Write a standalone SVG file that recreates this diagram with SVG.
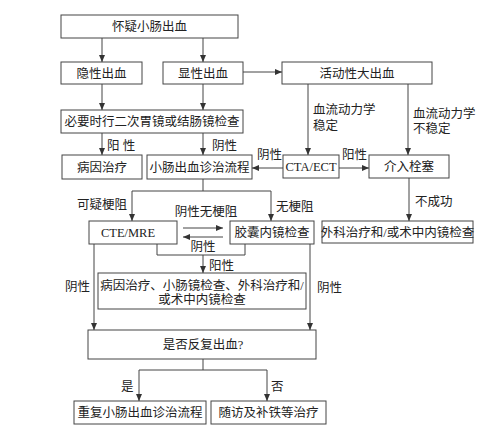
<svg xmlns="http://www.w3.org/2000/svg" width="492" height="434" viewBox="0 0 492 434">
<defs>
<marker id="ah" markerWidth="7" markerHeight="6" refX="7" refY="3" orient="auto" markerUnits="userSpaceOnUse">
<path d="M0,0 L7,3 L0,6 z" fill="#333"/>
</marker>
<style>
rect{fill:#fff;stroke:#444;stroke-width:1}
text{font-family:"Liberation Serif","Noto Sans CJK SC",serif;font-size:12.5px;fill:#222}
.c{text-anchor:middle}
.e{text-anchor:end}
#connectors path,#connectors line{fill:none;stroke:#444;stroke-width:1}
.a{marker-end:url(#ah)}
</style>
</defs>
<rect x="0" y="0" width="492" height="434" style="fill:#fff;stroke:none"/>
<g id="connectors">
<line class="a" x1="102" y1="38" x2="102" y2="62"/>
<line class="a" x1="203" y1="38" x2="203" y2="62"/>
<line class="a" x1="243" y1="72" x2="282" y2="72"/>
<line class="a" x1="102" y1="84" x2="102" y2="110"/>
<line class="a" x1="203" y1="84" x2="203" y2="110"/>
<line class="a" x1="102" y1="133" x2="102" y2="155"/>
<line class="a" x1="203" y1="133" x2="203" y2="155"/>
<line class="a" x1="308" y1="84" x2="308" y2="155"/>
<line class="a" x1="408" y1="84" x2="408" y2="155"/>
<line class="a" x1="283" y1="168" x2="252" y2="168"/>
<line class="a" x1="339" y1="168" x2="369" y2="168"/>
<line class="a" x1="409" y1="178" x2="409" y2="221"/>
<path d="M203,179 V191"/>
<path class="a" d="M203,191 H132 V221"/>
<path class="a" d="M203,191 H271 V221"/>
<line class="a" x1="183" y1="228" x2="223" y2="228"/>
<line class="a" x1="223" y1="237" x2="183" y2="237"/>
<path d="M157,244 V255 H245 V244"/>
<line class="a" x1="203" y1="255" x2="203" y2="273"/>
<line class="a" x1="94" y1="244" x2="94" y2="330"/>
<line class="a" x1="310" y1="244" x2="310" y2="330"/>
<path d="M203,359 V370"/>
<path class="a" d="M203,370 H139 V401"/>
<path class="a" d="M203,370 H267 V401"/>
<text x="107" y="150">阳 性</text>
<text x="212" y="150">阴性</text>
<text x="313" y="114">血流动力学</text>
<text x="313" y="130">稳定</text>
<text x="413" y="118">血流动力学</text>
<text x="413" y="133">不稳定</text>
<text x="257" y="159">阴性</text>
<text x="342" y="159">阳性</text>
<text x="415" y="206">不成功</text>
<text class="e" x="127" y="209">可疑梗阻</text>
<text x="276" y="211">无梗阻</text>
<text class="c" x="206" y="216">阴性无梗阻</text>
<text class="c" x="203" y="251">阴性</text>
<text x="209" y="270">阳性</text>
<text x="65" y="291">阴性</text>
<text x="317" y="292">阴性</text>
<text x="121" y="391">是</text>
<text x="271" y="391">否</text>
</g>
<g id="n1"><rect x="61" y="15" width="177" height="23"/><text class="c" x="149.5" y="31">怀疑小肠出血</text></g>
<g id="n2"><rect x="61" y="62" width="81" height="22"/><text class="c" x="101.5" y="77.5">隐性出血</text></g>
<g id="n3"><rect x="163" y="62" width="80" height="22"/><text class="c" x="203" y="77.5">显性出血</text></g>
<g id="n4"><rect x="282" y="62" width="150" height="22"/><text class="c" x="357" y="77.5">活动性大出血</text></g>
<g id="n5"><rect x="61" y="110" width="182" height="23"/><text class="c" x="152" y="126">必要时行二次胃镜或结肠镜检查</text></g>
<g id="n6"><rect x="62" y="155" width="80" height="24"/><text class="c" x="102" y="171.5">病因治疗</text></g>
<g id="n7"><rect x="147" y="155" width="105" height="24"/><text class="c" x="199.5" y="171.5">小肠出血诊治流程</text></g>
<g id="n8"><rect x="283" y="155" width="56" height="23"/><text class="c" x="311" y="171">CTA/ECT</text></g>
<g id="n9"><rect x="369" y="155" width="80" height="23"/><text class="c" x="409" y="171">介入栓塞</text></g>
<g id="n10"><rect x="89" y="221" width="88" height="23"/><text class="c" x="128" y="237">CTE/MRE</text></g>
<g id="n11"><rect x="230" y="221" width="84" height="23"/><text class="c" x="272" y="237">胶囊内镜检查</text></g>
<g id="n12"><rect x="322" y="221" width="151" height="22"/><text class="c" x="397.5" y="236.5">外科治疗和/或术中内镜检查</text></g>
<g id="n13"><rect x="98" y="273" width="208" height="36"/><text class="c" x="202" y="290">病因治疗、小肠镜检查、外科治疗和/</text><text class="c" x="202" y="304">或术中内镜检查</text></g>
<g id="n14"><rect x="88" y="330" width="228" height="29"/><text class="c" x="203" y="348.5">是否反复出血?</text></g>
<g id="n15"><rect x="74" y="401" width="132" height="23"/><text class="c" x="140" y="417">重复小肠出血诊治流程</text></g>
<g id="n16"><rect x="211" y="401" width="115" height="23"/><text class="c" x="268.5" y="417">随访及补铁等治疗</text></g>
</svg>
